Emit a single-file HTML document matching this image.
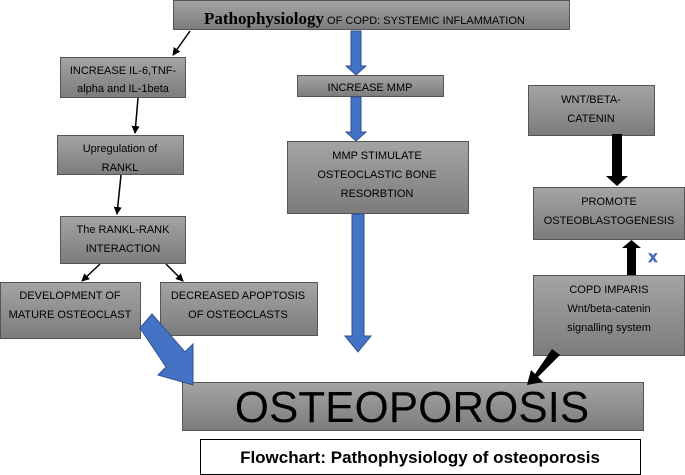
<!DOCTYPE html>
<html><head><meta charset="utf-8"><style>
html,body{margin:0;padding:0;background:#fff;}
svg{display:block;}
text{font-family:"Liberation Sans",sans-serif;}
</style></head><body>
<svg width="685" height="475" viewBox="0 0 685 475" xmlns="http://www.w3.org/2000/svg">
<defs>
<linearGradient id="g" x1="0" y1="0" x2="0" y2="1">
<stop offset="0" stop-color="#a4a4a4"/><stop offset="1" stop-color="#7c7c7c"/>
</linearGradient>
<marker id="ah" markerWidth="8" markerHeight="8" refX="7" refY="4" orient="auto" markerUnits="userSpaceOnUse">
<path d="M0,0 L8,4 L0,8 z" fill="#000"/></marker>
</defs>
<g stroke="#555" stroke-width="1" fill="url(#g)">
<rect x="173.5" y="0.5" width="396" height="29"/>
<rect x="60.5" y="57.5" width="125" height="40"/>
<rect x="57.5" y="135.5" width="126" height="39"/>
<rect x="60.5" y="216.5" width="125" height="47"/>
<rect x="0.5" y="282.5" width="140" height="56"/>
<rect x="160.5" y="282.5" width="157" height="53"/>
<rect x="297.5" y="75.5" width="146" height="21"/>
<rect x="287.5" y="141.5" width="181" height="72"/>
<rect x="528.5" y="85.5" width="126" height="50"/>
<rect x="533.5" y="187.5" width="151" height="52"/>
<rect x="533.5" y="275.5" width="151" height="80"/>
<rect x="182.5" y="382.5" width="461" height="48"/>
</g>
<rect x="200.5" y="439.5" width="440" height="35" fill="#fff" stroke="#000" stroke-width="1"/>
<!-- thin arrows -->
<g stroke="#000" stroke-width="1.5" marker-end="url(#ah)">
<line x1="190" y1="31" x2="173" y2="55"/>
<line x1="138" y1="98" x2="135" y2="133"/>
<line x1="121" y1="175" x2="117" y2="214"/>
<line x1="100" y1="264" x2="82" y2="281"/>
<line x1="166" y1="264" x2="183" y2="281"/>
</g>
<!-- blue vertical arrows -->
<g fill="#4472c4" stroke="#2f528f" stroke-width="1">
<path d="M351,31 H361 V66 H366 L356,75 L346,66 H351 Z"/>
<path d="M351,97 H361 V132 H366 L356,141 L346,132 H351 Z"/>
<path d="M352,214 H364 V336 H371 L358,352 L345,336 H352 Z"/>
<path d="M140,328 L152,314 L185,352 L193,344 L193,385 L158,375 L166,367 Z"/>
</g>
<!-- black thick arrows -->
<path d="M612,134 H622 V176 H628 L617,186 L606,176 H612 Z" fill="#000"/>
<path d="M627,275 H636 V248 H641 L631.5,240 L622,248 H627 Z" fill="#000"/>
<path d="M552,349 L560,355 L538,377 L543,382 L527,385 L531,370 L535,374 Z" fill="#000"/>
<text x="653" y="262" font-size="16" font-weight="bold" fill="#4472c4" stroke="#2f528f" stroke-width="0.5" text-anchor="middle">x</text>
<!-- texts -->
<g fill="#000" font-size="11" text-anchor="middle">
<text x="204" y="24" text-anchor="start"><tspan font-family="Liberation Serif" font-weight="bold" font-size="17">Pathophysiology</tspan><tspan font-size="11"> OF COPD: SYSTEMIC INFLAMMATION</tspan></text>
<text x="123" y="74">INCREASE IL-6,TNF-</text>
<text x="123" y="92">alpha and IL-1beta</text>
<text x="120" y="152">Upregulation of</text>
<text x="120" y="171">RANKL</text>
<text x="123" y="233">The RANKL-RANK</text>
<text x="123" y="252">INTERACTION</text>
<text x="70" y="299">DEVELOPMENT OF</text>
<text x="70" y="318">MATURE OSTEOCLAST</text>
<text x="238" y="299">DECREASED APOPTOSIS</text>
<text x="238" y="318">OF OSTEOCLASTS</text>
<text x="370" y="91">INCREASE MMP</text>
<text x="377" y="159">MMP STIMULATE</text>
<text x="377" y="178">OSTEOCLASTIC BONE</text>
<text x="377" y="197">RESORBTION</text>
<text x="591" y="103">WNT/BETA-</text>
<text x="591" y="122">CATENIN</text>
<text x="609" y="205">PROMOTE</text>
<text x="609" y="224">OSTEOBLASTOGENESIS</text>
<text x="609" y="293">COPD IMPARIS</text>
<text x="609" y="312">Wnt/beta-catenin</text>
<text x="609" y="331">signalling system</text>
<text x="412" y="422" font-family="Liberation Serif" font-size="44">OSTEOPOROSIS</text>
<text x="420" y="463" font-family="Liberation Serif" font-weight="bold" font-size="17">Flowchart: Pathophysiology of osteoporosis</text>
</g>
</svg>
</body></html>
